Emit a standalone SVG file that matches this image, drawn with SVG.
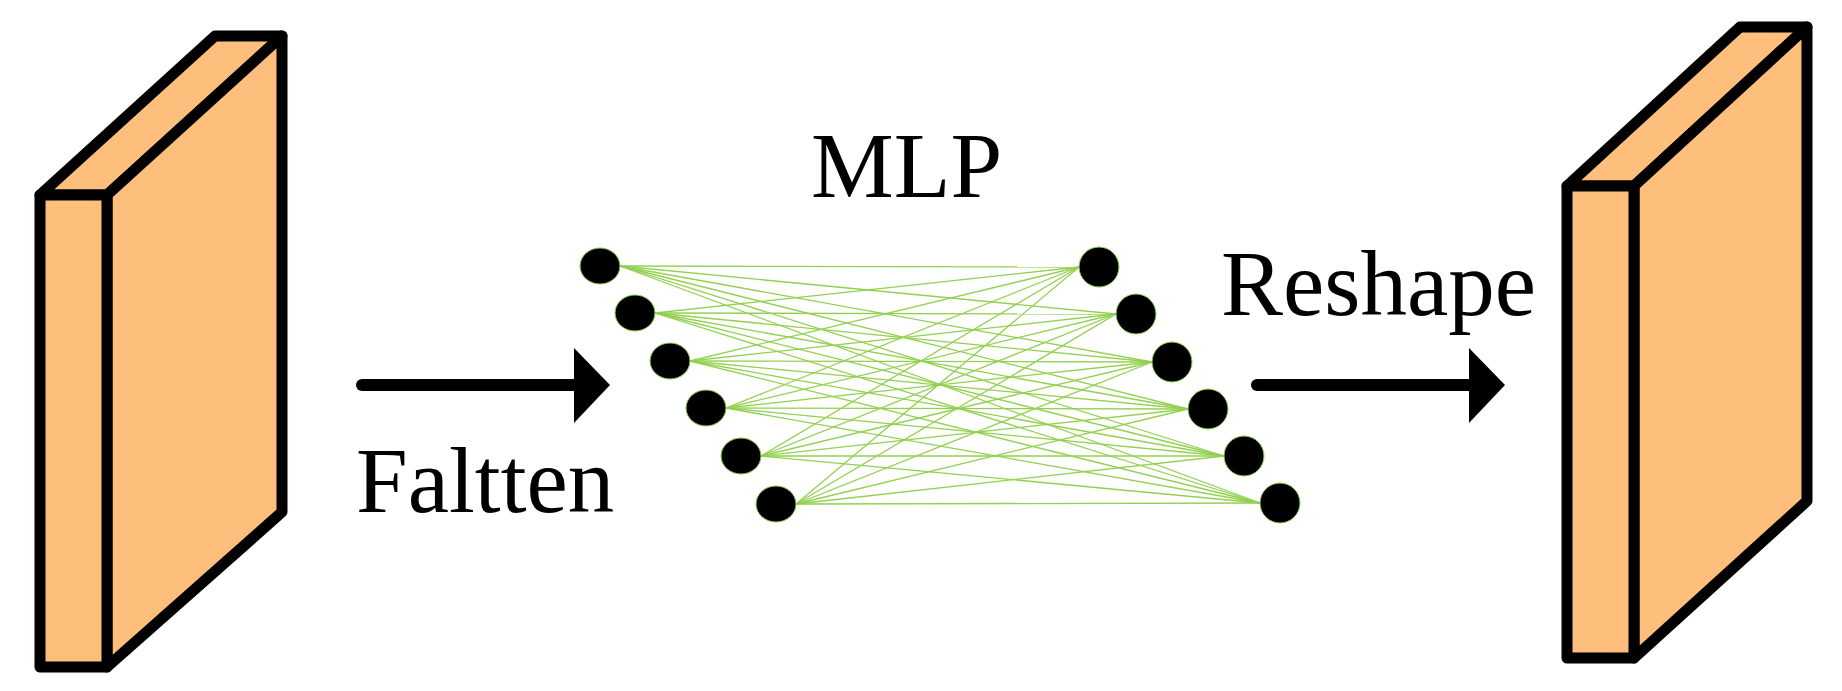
<svg xmlns="http://www.w3.org/2000/svg" width="1842" height="691" viewBox="0 0 1842 691">
<style>
.box{fill:#fdbf7b;stroke:#000;stroke-width:11;stroke-linejoin:round}
.t{font-family:"Liberation Serif",serif;font-size:93px;fill:#000}
.e{stroke:#92d050;stroke-width:1.3}
.n{fill:#000;stroke:#92d050;stroke-width:1}
.arr{stroke:#000;stroke-width:12;stroke-linecap:round}
</style>
<rect width="1842" height="691" fill="#fff"/>
<g id="input-block">
<polygon class="box" points="40,195 215,36 282,36 107,195"/>
<polygon class="box" points="107,195 282,36 282,512 107,667"/>
<rect class="box" x="40" y="195" width="67" height="472"/>
</g>
<g id="output-block">
<polygon class="box" points="1567,186 1740,27 1807,27 1634,186"/>
<polygon class="box" points="1634,186 1807,27 1807,501 1634,658"/>
<rect class="box" x="1567" y="186" width="67" height="472"/>
</g>
<g id="connectors">
<line class="arr" x1="362" y1="385" x2="580" y2="385"/>
<polygon points="574,348 610,385 574,423" fill="#000"/>
<line class="arr" x1="1257" y1="385" x2="1475" y2="385"/>
<polygon points="1469,348 1505,385 1469,423" fill="#000"/>
<g id="mlp-edges">
<line class="e" x1="620" y1="266" x2="1079" y2="267"/><line class="e" x1="620" y1="266" x2="1116" y2="314"/><line class="e" x1="620" y1="266" x2="1152" y2="362"/><line class="e" x1="620" y1="266" x2="1188" y2="409"/><line class="e" x1="620" y1="266" x2="1224" y2="456"/><line class="e" x1="620" y1="266" x2="1260" y2="503"/>
<line class="e" x1="655" y1="313" x2="1079" y2="267"/><line class="e" x1="655" y1="313" x2="1116" y2="314"/><line class="e" x1="655" y1="313" x2="1152" y2="362"/><line class="e" x1="655" y1="313" x2="1188" y2="409"/><line class="e" x1="655" y1="313" x2="1224" y2="456"/><line class="e" x1="655" y1="313" x2="1260" y2="503"/>
<line class="e" x1="690" y1="361" x2="1079" y2="267"/><line class="e" x1="690" y1="361" x2="1116" y2="314"/><line class="e" x1="690" y1="361" x2="1152" y2="362"/><line class="e" x1="690" y1="361" x2="1188" y2="409"/><line class="e" x1="690" y1="361" x2="1224" y2="456"/><line class="e" x1="690" y1="361" x2="1260" y2="503"/>
<line class="e" x1="726" y1="408" x2="1079" y2="267"/><line class="e" x1="726" y1="408" x2="1116" y2="314"/><line class="e" x1="726" y1="408" x2="1152" y2="362"/><line class="e" x1="726" y1="408" x2="1188" y2="409"/><line class="e" x1="726" y1="408" x2="1224" y2="456"/><line class="e" x1="726" y1="408" x2="1260" y2="503"/>
<line class="e" x1="761" y1="456" x2="1079" y2="267"/><line class="e" x1="761" y1="456" x2="1116" y2="314"/><line class="e" x1="761" y1="456" x2="1152" y2="362"/><line class="e" x1="761" y1="456" x2="1188" y2="409"/><line class="e" x1="761" y1="456" x2="1224" y2="456"/><line class="e" x1="761" y1="456" x2="1260" y2="503"/>
<line class="e" x1="796" y1="504" x2="1079" y2="267"/><line class="e" x1="796" y1="504" x2="1116" y2="314"/><line class="e" x1="796" y1="504" x2="1152" y2="362"/><line class="e" x1="796" y1="504" x2="1188" y2="409"/><line class="e" x1="796" y1="504" x2="1224" y2="456"/><line class="e" x1="796" y1="504" x2="1260" y2="503"/>
</g>
</g>
<g id="mlp-input-nodes">
<ellipse class="n" cx="600" cy="266" rx="20" ry="18"/><ellipse class="n" cx="635" cy="313" rx="20" ry="18"/><ellipse class="n" cx="670" cy="361" rx="20" ry="18"/><ellipse class="n" cx="706" cy="408" rx="20" ry="18"/><ellipse class="n" cx="741" cy="456" rx="20" ry="18"/><ellipse class="n" cx="776" cy="504" rx="20" ry="18"/>
</g>
<g id="mlp-output-nodes">
<ellipse class="n" cx="1099" cy="267" rx="20" ry="20"/><ellipse class="n" cx="1136" cy="314" rx="20" ry="20"/><ellipse class="n" cx="1172" cy="362" rx="20" ry="20"/><ellipse class="n" cx="1208" cy="409" rx="20" ry="20"/><ellipse class="n" cx="1244" cy="456" rx="20" ry="20"/><ellipse class="n" cx="1280" cy="503" rx="20" ry="20"/>
</g>
<g id="labels">
<text class="t" x="356" y="512">Faltten</text>
<text class="t" x="811" y="197">MLP</text>
<text class="t" x="1221" y="315">Reshape</text>
</g>
</svg>
